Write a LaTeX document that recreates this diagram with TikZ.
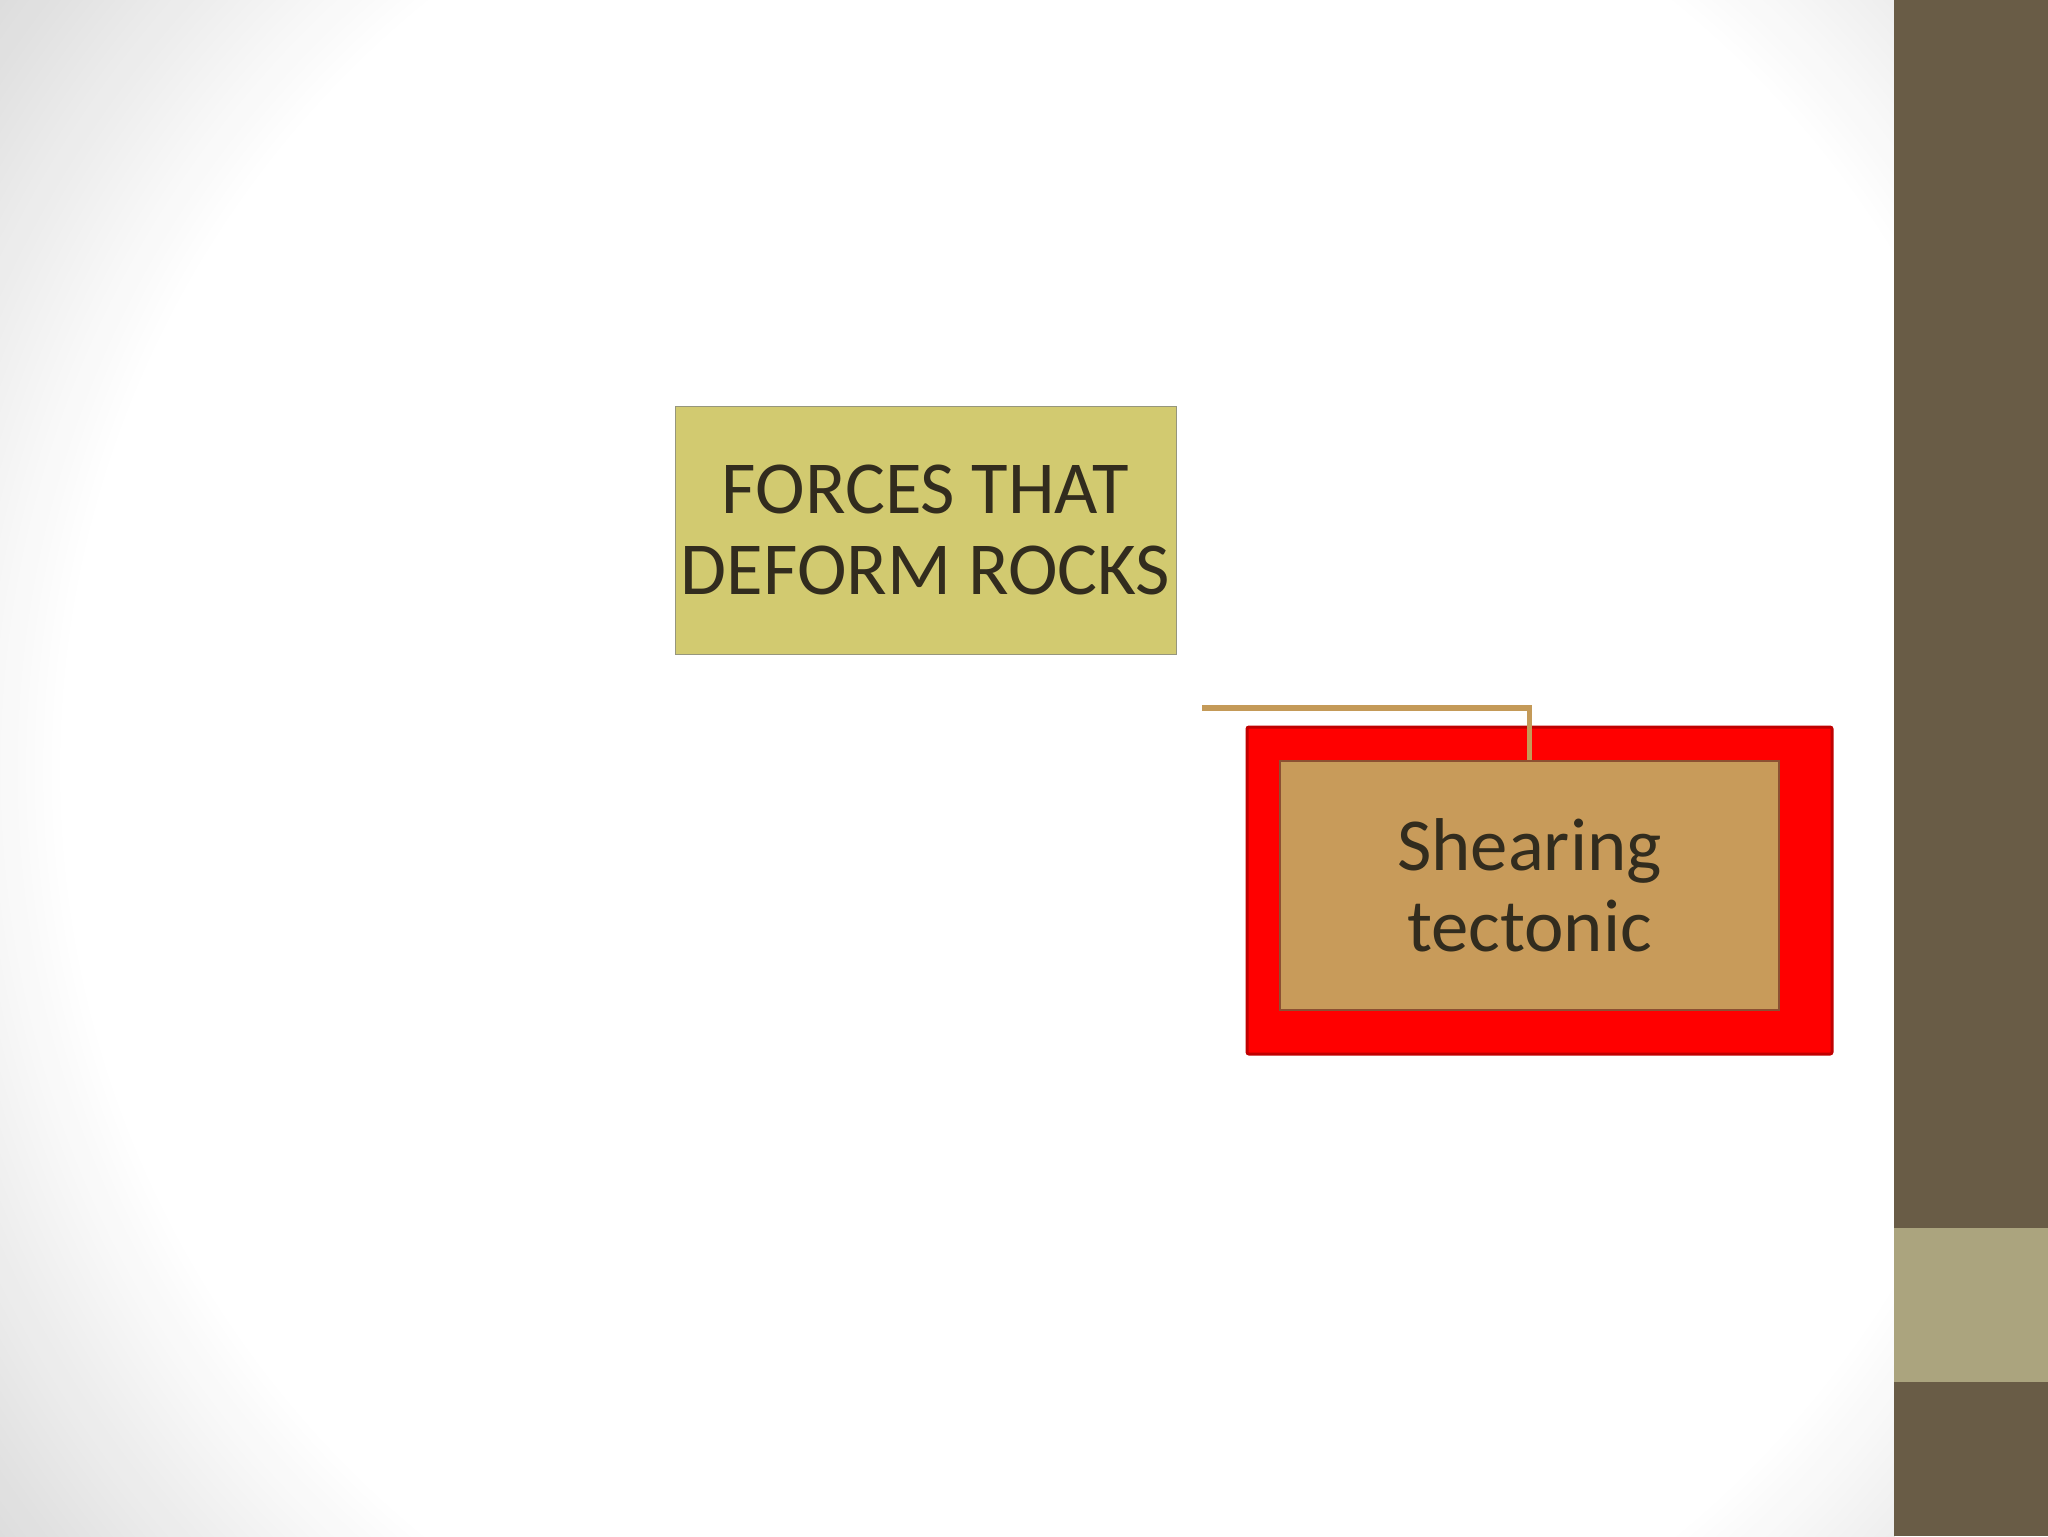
\documentclass[tikz,border=0pt]{standalone}
\usepackage{fontspec}
\setmainfont{Carlito}
\definecolor{bggray}{RGB}{218,218,218}
\definecolor{barbrown}{RGB}{105,92,70}
\definecolor{barlight}{RGB}{171,164,126}
\definecolor{topfill}{RGB}{210,202,112}
\definecolor{topedge}{RGB}{150,150,125}
\definecolor{redfill}{RGB}{255,0,0}
\definecolor{rededge}{RGB}{192,0,0}
\definecolor{innerfill}{RGB}{200,155,90}
\definecolor{inneredge}{RGB}{140,80,50}
\definecolor{conncol}{RGB}{196,154,88}
\definecolor{txtcol}{RGB}{50,44,30}
\newlength{\upx}
\setlength{\upx}{0.3516bp}
\tikzset{
  boxtext/.style={text=txtcol, align=center, inner sep=0pt, font=\fontsize{26.3bp}{28.5bp}\selectfont},
  topbox/.style={boxtext, rectangle, fill=topfill, draw=topedge, line width=1\upx},
  redbox/.style={rectangle, fill=redfill, draw=rededge, line width=3\upx, rounded corners=2\upx, inner sep=0pt},
  innerbox/.style={boxtext, rectangle, fill=innerfill, draw=inneredge, line width=1.5\upx},
  conn/.style={draw=conncol, line width=5.5\upx}
}
\begin{document}
\begin{tikzpicture}[x=0.3516bp,y=-0.3516bp]
\useasboundingbox (0,0) rectangle (2048,1536);
\begin{scope}
  \clip (0,0) rectangle (1894,1536);
  \fill[bggray] (0,0) rectangle (1894,1536);
  \foreach \i in {0,...,40} {
    \pgfmathsetmacro{\rr}{1330-8.5*\i}
    \pgfmathsetmacro{\mm}{2.5*\i}
    \fill[white!\mm!bggray] (1050,770) circle[radius=\rr];
  }
\end{scope}
\fill[barbrown] (1894,0) rectangle (2048,1536);
\fill[barlight] (1894,1228) rectangle (2048,1382);
\node[topbox, minimum width=501\upx, minimum height=248\upx] (forces) at (925.5,530) {FORCES THAT\\DEFORM ROCKS};
\node[redbox, minimum width=585\upx, minimum height=327\upx] (frame) at (1539.5,890.5) {};
\node[innerbox, minimum width=499\upx, minimum height=249\upx] (shear) at (1529.5,885.5) {Shearing\\tectonic};
\coordinate (c1) at (1202,708);
\draw[conn] (c1) -| (shear.north);
\end{tikzpicture}
\end{document}
